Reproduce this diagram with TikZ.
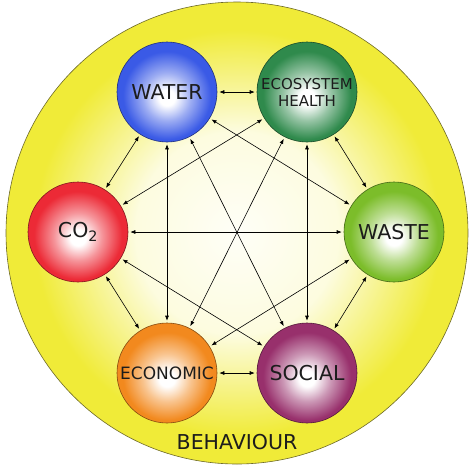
\documentclass[tikz,border=0pt]{standalone}
\usepackage{fontspec}
\setmainfont{DejaVu Sans}
\usetikzlibrary{arrows.meta}
\usepackage{xcolor}
\definecolor{SphereBlue}{HTML}{3A5AE6}
\definecolor{SphereGreen}{HTML}{2F8A4C}
\definecolor{SphereRed}{HTML}{EC2A36}
\definecolor{SphereLime}{HTML}{7CBD2A}
\definecolor{SphereOrange}{HTML}{F2891E}
\definecolor{SpherePurple}{HTML}{98306C}
\definecolor{BackYellow}{HTML}{F0EB38}
\definecolor{RimOlive}{HTML}{6E6A2A}
\definecolor{LabelDark}{HTML}{1C1C1C}
\colorlet{spherecol}{SphereBlue}
\pgfdeclareradialshading{paleyellow}{\pgfpoint{0bp}{0bp}}{color(0bp)=(BackYellow!4); color(11bp)=(BackYellow!16); color(22bp)=(BackYellow); color(50bp)=(BackYellow)}
\pgfdeclareradialshading[spherecol]{sphere}{\pgfpoint{0bp}{-3bp}}{color(0bp)=(white); color(4bp)=(white); color(12bp)=(spherecol!50!white); color(22bp)=(spherecol); color(50bp)=(spherecol)}

\begin{document}
\begin{tikzpicture}[x=1pt, y=-1pt,
    topic/.style={circle, minimum size=100pt, inner sep=0pt, draw=#1!55!black, line width=0.6pt,
      /utils/exec={\colorlet{spherecol}{#1}}, shading=sphere, text=LabelDark, align=center},
    big/.style={font=\fontsize{20.5}{24}\selectfont},
    small/.style={font=\fontsize{15}{20}\selectfont},
    link/.style={{Latex[length=5pt,width=4pt]}-{Latex[length=5pt,width=4pt]}, line width=0.6pt,
      shorten <=2pt, shorten >=2pt}]
    \useasboundingbox (0,0) rectangle (474,467);

    % Behaviour background
    \draw[draw=RimOlive, line width=0.6pt, shading=paleyellow] (237,233) circle[radius=231pt];
    \node[big, text=LabelDark] (behaviour) at (237,442) {BEHAVIOUR};

    % Spheres
    \node[topic=SphereBlue, big] (water) at (167,92) {WATER};
    \node[topic=SphereGreen, small] (eco) at (307,92) {ECOSYSTEM\\[-3pt]HEALTH};
    \node[topic=SphereRed, big] (co2) at (78,232) {CO\textsubscript{2}};
    \node[topic=SphereLime, big] (waste) at (394,232) {WASTE};
    \node[topic=SphereOrange, font=\fontsize{17}{20}\selectfont] (econ) at (167,373) {ECONOMIC};
    \node[topic=SpherePurple, big] (social) at (307,373) {SOCIAL};

    % Links
    \draw[link] (water) -- (eco);
    \draw[link] (water) -- (co2);
    \draw[link] (water) -- (econ);
    \draw[link] (water) -- (social);
    \draw[link] (water) -- (waste);
    \draw[link] (eco) -- (co2);
    \draw[link] (eco) -- (econ);
    \draw[link] (eco) -- (social);
    \draw[link] (eco) -- (waste);
    \draw[link] (co2) -- (waste);
    \draw[link] (co2) -- (econ);
    \draw[link] (co2) -- (social);
    \draw[link] (waste) -- (econ);
    \draw[link] (waste) -- (social);
    \draw[link] (econ) -- (social);
\end{tikzpicture}
\end{document}
